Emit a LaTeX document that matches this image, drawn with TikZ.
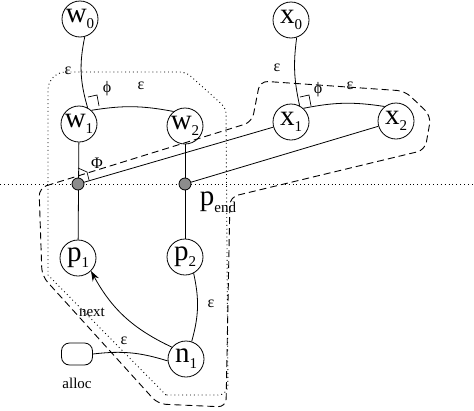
\documentclass[tikz,border=0pt]{standalone}
\usepackage{fontspec}
\setmainfont{Liberation Serif}
\usetikzlibrary{arrows.meta,calc}
\newcommand{\nlab}[2]{#1\raisebox{-6pt}{\fontsize{15}{15}\selectfont #2}}
\tikzset{
  state/.style={circle,draw,line width=0.8pt,minimum size=36pt,inner sep=0pt,font=\fontsize{29}{29}\selectfont},
  gdot/.style={circle,draw,line width=0.8pt,fill=black!45,minimum size=12pt,inner sep=0pt},
  elab/.style={inner sep=0pt,font=\fontsize{16}{16}\selectfont},
  tlab/.style={inner sep=0pt,font=\fontsize{15}{15}\selectfont},
  edge/.style={line width=0.8pt},
  regiondot/.style={line width=0.9pt,dash pattern=on 0.9pt off 3pt},
  regiondash/.style={line width=0.9pt,dash pattern=on 7pt off 4pt},
  rmark/.style={line width=0.7pt}
}
\begin{document}
\begin{tikzpicture}[x=1pt,y=-1pt]
\useasboundingbox (0,0) rectangle (474,410);
% regions
\draw[regiondot] (166,395) -- (48,275) [rounded corners=18pt] -- (48,72) [rounded corners=6pt] -- (186,72) -- (226,108) [rounded corners=10pt] -- (228,395) [sharp corners] -- cycle;
\draw[regiondash,rounded corners=8pt] (39,188) -- (252,122) -- (260,81) -- (405,91) -- (431,116) -- (425,150) -- (230,197) -- (226,407) -- (158,404) -- (42,276) -- cycle;
% states
\node[state] (w0) at (80,19) {\nlab{w}{0}};
\node[state] (w1) at (79,124) {\nlab{w}{1}};
\node[state] (w2) at (185,126) {\nlab{w}{2}};
\node[state] (x0) at (291,20) {\nlab{x}{0}};
\node[state] (x1) at (291,122) {\nlab{x}{1}};
\node[state] (x2) at (396,121) {\nlab{x}{2}};
\node[state] (p1) at (78,258) {\nlab{p}{1}};
\node[state] (p2) at (185,257) {\nlab{p}{2}};
\node[state] (n1) at (186,359) {\nlab{n}{1}};
\node[draw,line width=0.8pt,rounded corners=8pt,minimum width=31pt,minimum height=22pt,inner sep=0pt] (alloc) at (77,354) {};
% horizontal dotted line and verticals
\draw[regiondot] (0,184) -- (474,184);
\draw[edge] (w1) -- (p1);
\draw[edge] (w2) -- (p2);
\node[gdot] (d1) at (78,184) {};
\node[gdot] (d2) at (185,184) {};
% edges
\draw[edge] (w0.-75) to[bend right=14] (w1.62);
\draw[edge] (w1.48) to[bend left=10] (w2.128);
\draw[edge] (x0.-72) to[bend right=10] (x1.62);
\draw[edge] (x1.48) to[bend left=10] (x2.128);
\draw[edge] (d1) -- (x1);
\draw[edge] (d2) -- (x2);
\draw[edge] (p2.-62) to[bend left=14] (n1.72);
\draw[edge,-{Stealth[length=10pt,width=7pt]}] (n1.140) to[bend left=18] (p1.-45);
\draw[edge] (alloc.east) to[bend left=12] (n1.186);
% right-angle marks
\draw[rmark] ($(w1)+(9,-27)$) -- ($(w1)+(18,-29)$) -- ($(w1)+(20,-18)$);
\draw[rmark] ($(x1)+(9,-25)$) -- ($(x1)+(18,-27)$) -- ($(x1)+(20,-16)$);
\draw[rmark] ($(d1)+(0,-16)$) -- ($(d1)+(9,-12)$) -- ($(d1)+(11,-4)$);
% labels
\node[elab] (e1) at (68,71) {ε};
\node[elab] (f1) at (107,89) {ϕ};
\node[elab] (e2) at (141,86) {ε};
\node[elab] (e3) at (277,68) {ε};
\node[elab] (f2) at (318,90) {ϕ};
\node[elab] (e4) at (350,86) {ε};
\node[elab] (F1) at (97,163) {Φ};
\node[inner sep=0pt,font=\fontsize{29}{29}\selectfont] (pend) at (218,202) {p\raisebox{-7pt}{\fontsize{15}{15}\selectfont end}};
\node[elab] (e5) at (211,304) {ε};
\node[tlab] (nx) at (92,312) {next};
\node[elab] (e6) at (124,341) {ε};
\node[tlab] (al) at (77,383) {alloc};
\end{tikzpicture}
\end{document}
